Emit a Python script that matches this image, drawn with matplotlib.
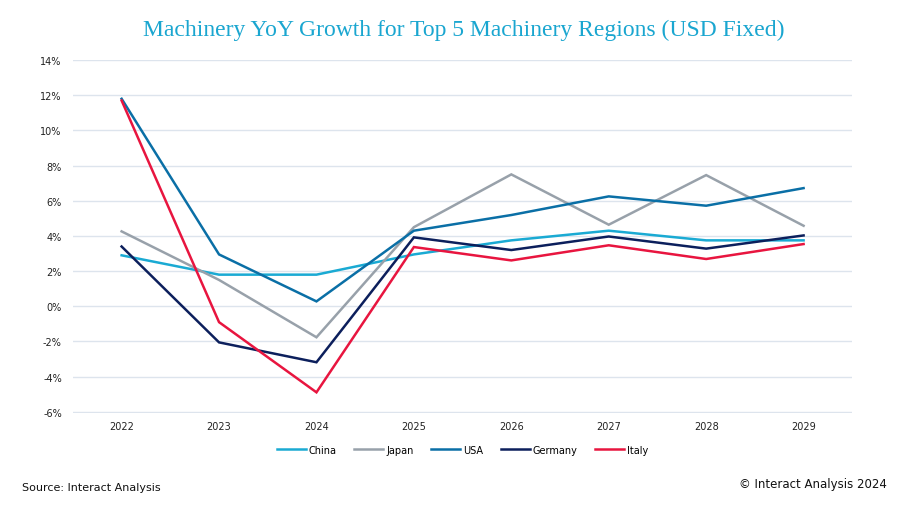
import numpy as np, matplotlib
matplotlib.use("Agg"); import matplotlib.pyplot as plt
from matplotlib.ticker import FuncFormatter

years = [2022, 2023, 2024, 2025, 2026, 2027, 2028, 2029]
china = [2.9, 1.8, 1.8, 2.95, 3.75, 4.3, 3.75, 3.75]
japan = [4.26, 1.5, -1.76, 4.5, 7.5, 4.64, 7.46, 4.58]
usa = [11.8, 2.95, 0.28, 4.3, 5.19, 6.25, 5.72, 6.72]
germany = [3.4, -2.05, -3.18, 3.92, 3.2, 3.97, 3.28, 4.03]
italy = [11.7, -0.9, -4.89, 3.37, 2.61, 3.47, 2.69, 3.54]

series = [("China", china, "#1aaad3"), ("Japan", japan, "#98a1aa"), ("USA", usa, "#0a6fa6"),
          ("Germany", germany, "#0c1f5c"), ("Italy", italy, "#e8153f")]

fig = plt.figure(figsize=(9, 5.06), dpi=100)
ax = fig.add_axes([0.081, 0.182, 0.866, 0.698])
for name, vals, c in series:
    ax.plot(years, vals, color=c, lw=1.8, label=name, solid_joinstyle="miter")
ax.set_xlim(2021.5, 2029.5); ax.set_ylim(-6.06, 14.02)
ax.set_yticks(np.arange(-6, 15, 2)); ax.set_xticks(years)
ax.yaxis.set_major_formatter(FuncFormatter(lambda v, p: f"{v:.0f}%"))
ax.grid(axis="y", color="#dde4ed", lw=1); ax.set_axisbelow(True)
for s in ax.spines.values(): s.set_visible(False)
ax.tick_params(length=0, labelsize=7, colors="#222222", pad=8)
ax.tick_params(axis="x", pad=6)
fig.text(0.515, 0.94, "Machinery YoY Growth for Top 5 Machinery Regions (USD Fixed)", ha="center", va="center",
         fontsize=17, color="#1aa6d0", family="Liberation Serif")
ax.legend(loc="upper center", bbox_to_anchor=(0.5, -0.065), ncol=5, frameon=False, fontsize=7,
          handlelength=3.0, handletextpad=0.3, columnspacing=1.8)
fig.text(0.024, 0.035, "Source: Interact Analysis", fontsize=8, color="#111111", va="center")
fig.text(0.985, 0.043, "© Interact Analysis 2024", fontsize=8.5, color="#111111", va="center", ha="right")
fig.savefig("out.png", dpi=100)
